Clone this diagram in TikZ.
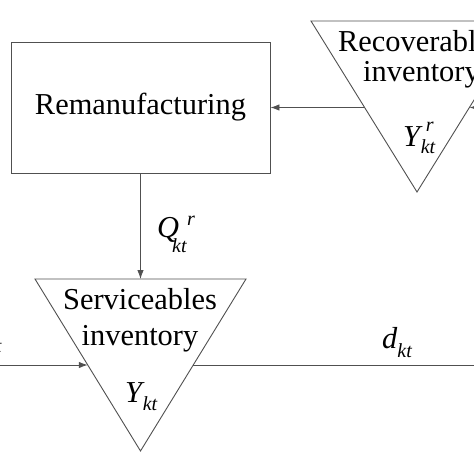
\documentclass[tikz,border=0pt]{standalone}
\usepackage{fontspec}
\setmainfont{Liberation Serif}
\usetikzlibrary{arrows.meta}
\definecolor{linegray}{HTML}{505050}
\newcommand{\mainsz}{\fontsize{30.4}{36}\selectfont}
\newcommand{\subsz}{\fontsize{20}{22}\selectfont}
% #1 base, #2 kern after base, #3 extra kern of sup, #4 sup raise, #5 sup, #6 sub lower, #7 sub
\newcommand{\msym}[7]{\textit{#1}\kern#2\rlap{\kern#3\raisebox{#4}{\subsz\textit{#5}}}\raisebox{-#6}{\subsz\textit{#7}}}
\begin{document}
\begin{tikzpicture}[x=1pt,y=-1pt,
  ln/.style={draw=linegray,line width=0.9pt},
  arr/.style={ln,-{Latex[length=9pt,width=6.5pt]}},
  lab/.style={inner sep=0pt,font=\mainsz},
  boxnode/.style={ln,rectangle,minimum width=259pt,minimum height=131pt,inner sep=0pt,font=\mainsz}]
\useasboundingbox (0,0) rectangle (474,474);
\clip (0,0) rectangle (474,474);
% Remanufacturing box
\node[boxnode] (remanu) at (140.5,107.5) {Remanufacturing};
% Recoverable inventory triangle
\coordinate (recA) at (311,21);
\coordinate (recB) at (523,21);
\coordinate (recC) at (417,192);
\draw[ln] (recA) -- (recB) -- (recC) -- cycle;
\coordinate (recL) at (364.6,107.5);
\coordinate (recR) at (469.4,107.5);
\node[lab,anchor=base west] (rec1) at (338,51) {Recoverable};
\node[lab,anchor=base west] (rec2) at (363,81) {inventory};
\node[lab,anchor=base west] (recY) at (403,146) {\msym{Y}{-2pt}{5pt}{15pt}{r}{7pt}{kt}};
% Serviceables inventory triangle
\coordinate (srvA) at (35,279);
\coordinate (srvB) at (246,279);
\coordinate (srvC) at (140.5,451);
\draw[ln] (srvA) -- (srvB) -- (srvC) -- cycle;
\coordinate (srvT) at (140.5,279);
\coordinate (srvL) at (87.75,365);
\coordinate (srvR) at (193.25,365);
\node[lab,anchor=base] (srv1) at (140,309) {Serviceables};
\node[lab,anchor=base] (srv2) at (140,345) {inventory};
\node[lab,anchor=base west] (srvY) at (125,402) {\msym{Y}{-2pt}{0pt}{0pt}{}{8pt}{kt}};
% free ends
\coordinate (leftin) at (-5,365);
\coordinate (rightout) at (480,365);
\coordinate (rightin) at (485,107.5);
% connectors
\draw[arr] (recL) -- (remanu.east);
\draw[arr] (rightin) -- (recR);
\draw[arr] (remanu.south) -- (srvT);
\draw[arr] (leftin) -- (srvL);
\draw[ln] (srvR) -- (rightout);
% labels
\node[lab,anchor=base west] (qlab) at (157,237) {\msym{Q}{-7pt}{15pt}{12pt}{r}{15pt}{kt}};
\node[lab,anchor=base west] (dlab) at (382,348) {\msym{d}{0pt}{0pt}{0pt}{}{9pt}{kt}};
\node[inner sep=0pt,anchor=base east,font=\subsz] (leftlab) at (2,352) {\textit{kt}};
\end{tikzpicture}
\end{document}
